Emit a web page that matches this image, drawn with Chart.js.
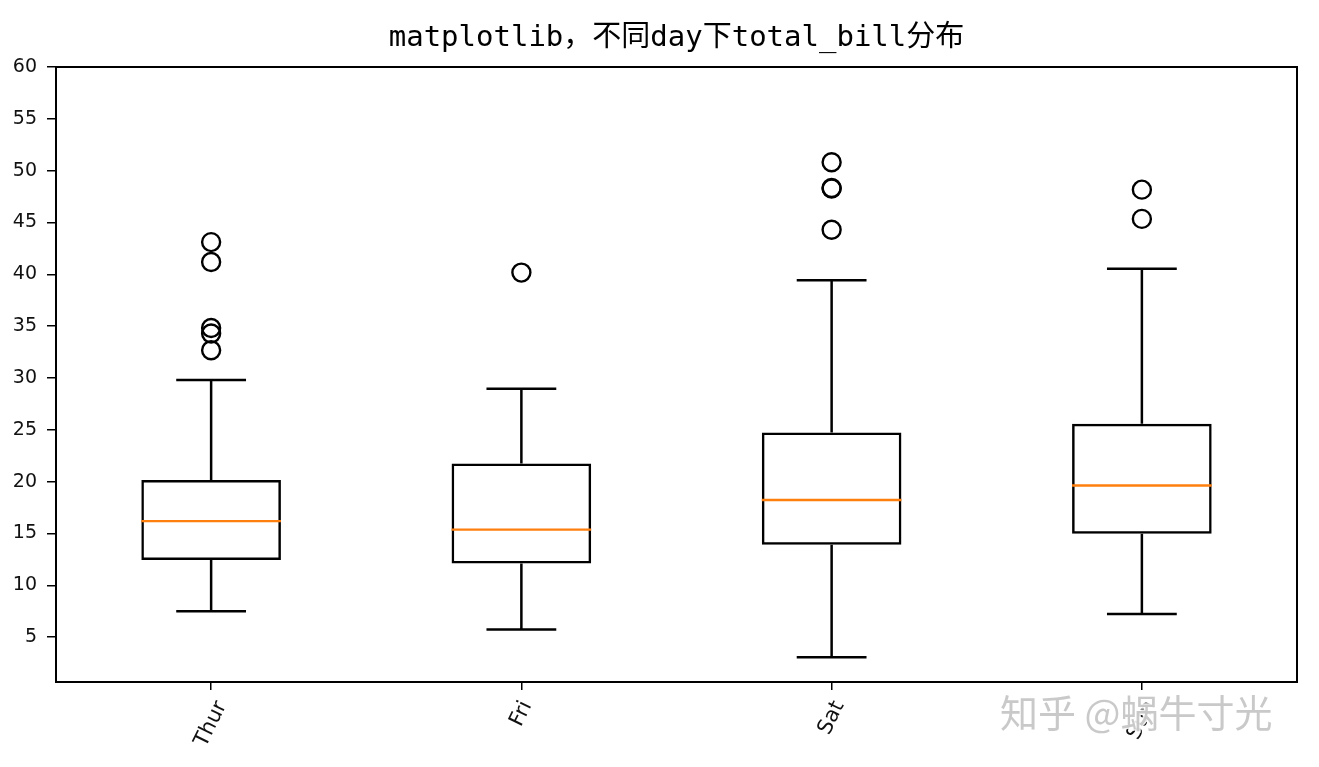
<!DOCTYPE html>
<html>
<head>
<meta charset="utf-8">
<script src="https://cdn.jsdelivr.net/npm/chart.js@4/dist/chart.umd.min.js"></script>
<style>
html,body{margin:0;padding:0;background:#fff;}
#wrap{width:1319px;height:767px;position:relative;}
</style>
</head>
<body>
<div id="wrap"><canvas id="c" width="1319" height="767"></canvas></div>
<script>
// ---- data ----
const categories = ['Thur', 'Fri', 'Sat', 'Sun'];
const q1 = [12.44, 12.10, 13.91, 14.99];
const median = [16.20, 15.38, 18.24, 19.63];
const q3 = [20.16, 21.75, 24.74, 25.60];
const whiskerLow = [7.51, 5.75, 3.07, 7.25];
const whiskerHigh = [29.80, 28.97, 39.42, 40.55];
const outliersThur = [32.68, 34.30, 34.83, 41.19, 43.11];
const outliersFri = [40.17];
const outliersSat = [44.30, 48.27, 48.33, 50.81];
const outliersSun = [45.35, 48.17];
const yTicks = [5, 10, 15, 20, 25, 30, 35, 40, 45, 50, 55, 60];
const titleText = 'matplotlib，不同day下total_bill分布';
const watermark = '知乎 @蜗牛寸光';

const outlierLists = [outliersThur, outliersFri, outliersSat, outliersSun];
const outlierPoints = [];
outlierLists.forEach((arr, i) => arr.forEach(v => outlierPoints.push({x: categories[i], y: v})));

const boxPlugin = {
  id: 'boxExtras',
  afterDatasetsDraw(chart) {
    const ctx = chart.ctx;
    const xs = chart.scales.x, ys = chart.scales.y;
    const meta = chart.getDatasetMeta(0);
    ctx.save();
    for (let i = 0; i < categories.length; i++) {
      const cx = xs.getPixelForValue(i);
      const bw = meta.data[i].width;
      const cap = bw * 0.25;
      ctx.strokeStyle = '#000';
      ctx.lineWidth = 2.5;
      ctx.lineCap = 'butt';
      ctx.beginPath();
      ctx.moveTo(cx, ys.getPixelForValue(q1[i]));
      ctx.lineTo(cx, ys.getPixelForValue(whiskerLow[i]));
      ctx.moveTo(cx - cap, ys.getPixelForValue(whiskerLow[i]));
      ctx.lineTo(cx + cap, ys.getPixelForValue(whiskerLow[i]));
      ctx.moveTo(cx, ys.getPixelForValue(q3[i]));
      ctx.lineTo(cx, ys.getPixelForValue(whiskerHigh[i]));
      ctx.moveTo(cx - cap, ys.getPixelForValue(whiskerHigh[i]));
      ctx.lineTo(cx + cap, ys.getPixelForValue(whiskerHigh[i]));
      ctx.stroke();
      ctx.strokeStyle = '#ff7f0e';
      ctx.lineWidth = 2.4;
      ctx.beginPath();
      ctx.moveTo(cx - bw / 2, ys.getPixelForValue(median[i]));
      ctx.lineTo(cx + bw / 2, ys.getPixelForValue(median[i]));
      ctx.stroke();
    }
    ctx.restore();
  },
  afterDraw(chart) {
    const ctx = chart.ctx;
    const a = chart.chartArea;
    const xs = chart.scales.x;
    ctx.save();
    ctx.strokeStyle = '#000';
    ctx.lineWidth = 2;
    ctx.strokeRect(a.left, a.top, a.right - a.left, a.bottom - a.top);
    // title
    ctx.fillStyle = '#000';
    ctx.font = '29px "DejaVu Sans Mono", "Noto Sans CJK SC", monospace';
    ctx.textAlign = 'center';
    ctx.textBaseline = 'middle';
    ctx.fillText(titleText, (a.left + a.right) / 2, 38);
    // rotated x labels
    const ang = 64 * Math.PI / 180;
    ctx.font = '21px "DejaVu Sans", sans-serif';
    ctx.fillStyle = '#111';
    for (let i = 0; i < categories.length; i++) {
      const w = ctx.measureText(categories[i]).width;
      const h = 16;
      const bboxH = w * Math.sin(ang) + h * Math.cos(ang);
      const cx = xs.getPixelForValue(i);
      const cy = a.bottom + 17 + bboxH / 2;
      ctx.save();
      ctx.translate(cx, cy);
      ctx.rotate(-ang);
      ctx.textAlign = 'center';
      ctx.textBaseline = 'middle';
      ctx.fillText(categories[i], 0, 0);
      ctx.restore();
    }
    // watermark
    ctx.font = '38px "Noto Sans CJK SC", sans-serif';
    ctx.textAlign = 'left';
    ctx.textBaseline = 'middle';
    ctx.lineWidth = 3;
    ctx.strokeStyle = 'rgba(255,255,255,0.9)';
    ctx.strokeText(watermark, 1000, 713);
    ctx.fillStyle = 'rgba(195,195,195,0.9)';
    ctx.fillText(watermark, 1000, 713);
    ctx.restore();
  }
};

new Chart(document.getElementById('c'), {
  data: {
    labels: categories,
    datasets: [
      {
        type: 'bar',
        data: categories.map((c, i) => [q1[i], q3[i]]),
        backgroundColor: 'rgba(0,0,0,0)',
        borderColor: '#000',
        borderWidth: 2.5,
        borderSkipped: false,
        categoryPercentage: 1,
        barPercentage: 0.45
      },
      {
        type: 'scatter',
        data: outlierPoints,
        pointRadius: 9,
        pointHoverRadius: 9,
        pointBorderWidth: 2.4,
        pointBackgroundColor: 'rgba(0,0,0,0)',
        pointBorderColor: '#000',
        borderColor: '#000',
        backgroundColor: 'rgba(0,0,0,0)'
      }
    ]
  },
  options: {
    responsive: false,
    animation: false,
    events: [],
    layout: { padding: { top: 67, right: 22, left: 0, bottom: 0 } },
    plugins: { legend: { display: false }, title: { display: false }, tooltip: { enabled: false } },
    scales: {
      x: {
        type: 'category',
        offset: true,
        grid: { display: true, drawOnChartArea: false, offset: false, drawTicks: true, tickLength: 8, color: '#000', lineWidth: 1.5 },
        border: { display: true, color: '#000', width: 2 },
        ticks: { display: true, color: 'rgba(0,0,0,0)', maxRotation: 0, minRotation: 0, font: { size: 12 } },
        afterFit(scale) { scale.height = 85; }
      },
      y: {
        type: 'linear',
        min: 0.68,
        max: 60,
        afterBuildTicks(scale) { scale.ticks = yTicks.map(v => ({ value: v })); },
        grid: { display: true, drawOnChartArea: false, drawTicks: true, tickLength: 9, color: '#000', lineWidth: 1.5 },
        border: { display: true, color: '#000', width: 2 },
        ticks: { color: '#111', padding: 10, font: { family: '"DejaVu Sans", sans-serif', size: 19 } },
        afterFit(scale) { scale.width = 56; }
      }
    }
  },
  plugins: [boxPlugin]
});
</script>
</body>
</html>
